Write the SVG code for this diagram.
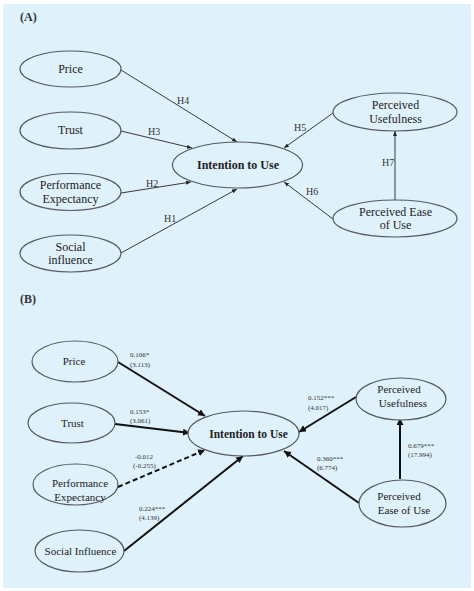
<svg xmlns="http://www.w3.org/2000/svg" width="474" height="591" viewBox="0 0 474 591">
<style>
.bg{fill:#dff1fb}
.node ellipse{fill:#dff1fb;stroke:#555a60;stroke-width:1.2}
.nt{font-family:"Liberation Serif","Times New Roman",serif;fill:#222;text-anchor:middle}
.a{font-size:12px}
.b{font-size:11px}
.bold{font-weight:bold}
.lab{font-family:"Liberation Serif","Times New Roman",serif;fill:#333}
.h{font-size:10px}
.s{font-size:7px}
.ca{stroke:#3a3a3a;stroke-width:1;fill:none;marker-end:url(#ah)}
.cb{stroke:#111;stroke-width:2;fill:none;marker-end:url(#bh)}
.dash{stroke-dasharray:5,3}
</style>
<defs>
<marker id="ah" markerUnits="userSpaceOnUse" markerWidth="6" markerHeight="6" refX="5" refY="2.5" orient="auto"><path d="M0,0.5 L5,2.5 L0,4.5 Z" fill="#222"/></marker>
<marker id="bh" markerUnits="userSpaceOnUse" markerWidth="9" markerHeight="8" refX="7" refY="3.5" orient="auto"><path d="M0,0 L7,3.5 L0,7 Z" fill="#111"/></marker>
</defs>
<rect x="0" y="0" width="474" height="591" fill="#ffffff"/>
<rect class="bg" x="3" y="4" width="468" height="584"/>

<text class="lab bold" x="20" y="21" font-size="12">(A)</text>
<text class="lab bold" x="20" y="303" font-size="12">(B)</text>

<g id="connectors">
<g id="connectors-a">
<line class="ca" x1="121" y1="70" x2="237" y2="142"/>
<line class="ca" x1="121" y1="131" x2="192" y2="148"/>
<line class="ca" x1="121" y1="193" x2="191" y2="182"/>
<line class="ca" x1="121" y1="253" x2="237" y2="189"/>
<line class="ca" x1="333" y1="113" x2="284" y2="148"/>
<line class="ca" x1="333" y1="219" x2="284" y2="182"/>
<line class="ca" x1="395" y1="200" x2="395" y2="131"/>
<text class="lab h" x="177" y="104">H4</text>
<text class="lab h" x="148" y="135">H3</text>
<text class="lab h" x="146" y="187">H2</text>
<text class="lab h" x="164" y="222">H1</text>
<text class="lab h" x="294" y="131">H5</text>
<text class="lab h" x="306" y="195">H6</text>
<text class="lab h" x="382" y="166">H7</text>
</g>
<g id="connectors-b">
<line class="cb" x1="118" y1="362" x2="205" y2="416"/>
<line class="cb" x1="115" y1="424" x2="190" y2="433"/>
<line class="cb dash" x1="118" y1="487" x2="205" y2="450"/>
<line class="cb" x1="124" y1="551" x2="243" y2="456"/>
<line class="cb" x1="356" y1="397" x2="299" y2="432"/>
<line class="cb" x1="359" y1="503" x2="284" y2="451"/>
<line class="cb" x1="400" y1="479" x2="400" y2="418"/>
<text class="lab s" x="130" y="357">0.106*</text>
<text class="lab s" x="130" y="367">(3.113)</text>
<text class="lab s" x="130" y="414">0.153*</text>
<text class="lab s" x="130" y="423">(3.061)</text>
<text class="lab s" x="135" y="459">-0.012</text>
<text class="lab s" x="133" y="468">(-0.255)</text>
<text class="lab s" x="139" y="511">0.224***</text>
<text class="lab s" x="139" y="520">(4.139)</text>
<text class="lab s" x="308" y="400">0.152***</text>
<text class="lab s" x="308" y="410">(4.017)</text>
<text class="lab s" x="317" y="461">0.360***</text>
<text class="lab s" x="317" y="470">(6.774)</text>
<text class="lab s" x="408" y="448">0.679***</text>
<text class="lab s" x="408" y="457">(17.994)</text>
</g>
</g>

<g id="a-price" class="node"><ellipse cx="70.5" cy="69" rx="50.5" ry="18"/><text class="nt a" x="70.5" y="73">Price</text></g>
<g id="a-trust" class="node"><ellipse cx="70.5" cy="130.5" rx="50.5" ry="18.5"/><text class="nt a" x="70.5" y="134">Trust</text></g>
<g id="a-pe" class="node"><ellipse cx="70.5" cy="192" rx="50.5" ry="18.5"/><text class="nt a" x="70.5" y="189">Performance</text><text class="nt a" x="70.5" y="203">Expectancy</text></g>
<g id="a-si" class="node"><ellipse cx="70.5" cy="253.5" rx="50.5" ry="18.5"/><text class="nt a" x="70.5" y="251">Social</text><text class="nt a" x="70.5" y="264">influence</text></g>
<g id="a-itu" class="node"><ellipse cx="237.5" cy="165" rx="65" ry="23"/><text class="nt a bold" x="238" y="169">Intention to Use</text></g>
<g id="a-pu" class="node"><ellipse cx="395" cy="112" rx="62" ry="19"/><text class="nt a" x="395.5" y="109">Perceived</text><text class="nt a" x="395.5" y="123">Usefulness</text></g>
<g id="a-peou" class="node"><ellipse cx="395" cy="218.5" rx="62" ry="18.5"/><text class="nt a" x="395.5" y="216">Perceived Ease</text><text class="nt a" x="395.5" y="229">of Use</text></g>

<g id="b-price" class="node"><ellipse cx="75" cy="361.5" rx="43" ry="20.5"/><text class="nt b" x="74" y="365">Price</text></g>
<g id="b-trust" class="node"><ellipse cx="71.5" cy="423" rx="43.5" ry="20"/><text class="nt b" x="72.5" y="427">Trust</text></g>
<g id="b-pe" class="node"><ellipse cx="75.5" cy="484.5" rx="42.5" ry="20.5"/><text class="nt b" x="80" y="487">Performance</text><text class="nt b" x="80" y="500.5">Expectancy</text></g>
<g id="b-si" class="node"><ellipse cx="79.5" cy="551" rx="44.5" ry="21"/><text class="nt b" x="80.5" y="555">Social Influence</text></g>
<g id="b-itu" class="node"><ellipse cx="243.5" cy="433.5" rx="55.5" ry="22.5"/><text class="nt bold" font-size="11.5" x="248.5" y="437.5">Intention to Use</text></g>
<g id="b-pu" class="node"><ellipse cx="401" cy="399" rx="45" ry="21"/><text class="nt b" x="399" y="393">Perceived</text><text class="nt b" x="403" y="407">Usefulness</text></g>
<g id="b-peou" class="node"><ellipse cx="402.5" cy="503.5" rx="43.5" ry="23.5"/><text class="nt b" x="399" y="500">Perceived</text><text class="nt b" x="404" y="514">Ease of Use</text></g>
</svg>
